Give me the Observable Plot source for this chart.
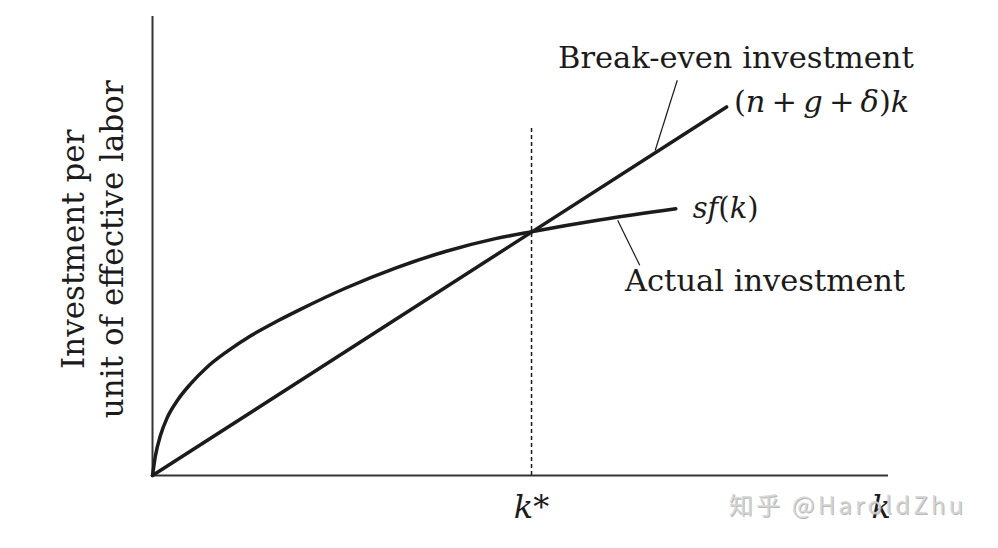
<!DOCTYPE html>
<html>
<head>
<meta charset="utf-8">
<script src="https://cdn.jsdelivr.net/npm/d3@7"></script>
<script src="https://cdn.jsdelivr.net/npm/@observablehq/plot@0.6"></script>
<style>
  html, body { margin: 0; padding: 0; background: #fff; }
  #chart { width: 998px; height: 548px; }
</style>
</head>
<body>
<div id="chart"></div>
<script>
// Actual investment curve sf(k)
const sfK = [0, 0.4, 1.1, 2.0, 3.4, 5.2, 7.4, 10.2, 13.3, 16.9, 20.1, 26.2, 33.0, 39.8, 46.6, 51.5, 60.9, 71.1];
const sfY = [0, 4.3, 8.8, 12.6, 16.4, 20.0, 23.6, 27.1, 30.4, 33.6, 36.2, 40.8, 45.2, 48.8, 51.6, 53.1, 55.7, 58.1];
// Break-even investment line (n+g+δ)k
const beK = [0, 78.0];
const beY = [0, 80.3];
// Steady state
const kStar = 51.5;
const kStarTop = 75.6;
// Axis extents
const xMax = 100, yMax = 100;

const labels = [
  {x: 55.1, y: 88.7, text: "Break-even investment", anchor: "start", size: 30.5},
  {x: 79.0, y: 79.1, text: "(n+g+δ)k", anchor: "start", size: 30.5},
  {x: 73.4, y: 56.2, text: "sf(k)", anchor: "start", size: 29},
  {x: 64.2, y: 40.3, text: "Actual investment", anchor: "start", size: 30.5},
  {x: kStar, y: -9.2, text: "k*", anchor: "middle", size: 32},
  {x: 99.0, y: -9.2, text: "k", anchor: "middle", size: 32}
];
const leaders = [
  {x1: 71.3, y1: 86.1, x2: 68.3, y2: 70.8},
  {x1: 63.2, y1: 55.6, x2: 66.2, y2: 45.8}
];
const yLabelLines = [
  {x: -9.3, y: 49.3, text: "Investment per"},
  {x: -4.0, y: 49.3, text: "unit of effective labor"}
];
const watermark = [{x: 78.3, y: -8.3, text: "知乎 @HaroldZhu"}];

const sfData = sfK.map((k, i) => ({k, v: sfY[i]}));
const beData = beK.map((k, i) => ({k, v: beY[i]}));
const serif = "DejaVu Serif";
const ink = "#1c1a1b";

const textMarks = labels.map(d => Plot.text([d], {
  x: "x", y: "y", text: "text", textAnchor: d.anchor, lineAnchor: "bottom",
  fontFamily: serif, fontSize: d.size, fill: ink
}));

const svg = Plot.plot({
  width: 998, height: 548,
  marginLeft: 152, marginRight: 110, marginTop: 16, marginBottom: 73,
  x: {domain: [0, xMax], axis: null},
  y: {domain: [0, yMax], axis: null},
  style: {background: "#fff"},
  marks: [
    Plot.ruleX([kStar], {y1: 0, y2: kStarTop, stroke: ink, strokeWidth: 1.5, strokeDasharray: "4,3"}),
    Plot.ruleX([0], {y1: 0, y2: yMax, stroke: "#333", strokeWidth: 2}),
    Plot.ruleY([0], {x1: 0, x2: xMax, stroke: "#333", strokeWidth: 2}),
    Plot.line(beData, {x: "k", y: "v", stroke: ink, strokeWidth: 3.5}),
    Plot.line(sfData, {x: "k", y: "v", stroke: ink, strokeWidth: 3.5, curve: "monotone-x"}),
    Plot.link(leaders, {x1: "x1", y1: "y1", x2: "x2", y2: "y2", stroke: ink, strokeWidth: 1.2}),
    ...textMarks,
    Plot.text(yLabelLines, {x: "x", y: "y", text: "text", rotate: -90, textAnchor: "middle", lineAnchor: "bottom", fontFamily: serif, fontSize: 31, fill: ink}),
    Plot.text(watermark, {x: "x", y: "y", text: "text", textAnchor: "start", lineAnchor: "bottom", fontFamily: "Noto Sans CJK SC", fontSize: 24, fill: "#9a9a9a", dx: 1, dy: 1, fillOpacity: 0.7}),
    Plot.text(watermark, {x: "x", y: "y", text: "text", textAnchor: "start", lineAnchor: "bottom", fontFamily: "Noto Sans CJK SC", fontSize: 24, fill: "#d6d6d6", fillOpacity: 0.9})
  ]
});

// Italicise variable letters in the math labels; widen spacing around "+"
const mathLabels = new Set(["(n+g+δ)k", "sf(k)", "k*", "k"]);
d3.select(svg).selectAll("text").each(function () {
  const t = this.textContent;
  if (t === watermark[0].text) this.setAttribute("letter-spacing", "3.2");
  if (!mathLabels.has(t)) return;
  while (this.firstChild) this.removeChild(this.firstChild);
  const chars = Array.from(t);
  chars.forEach((ch, i) => {
    const ts = document.createElementNS("http://www.w3.org/2000/svg", "tspan");
    if (/[a-zδ]/.test(ch)) ts.setAttribute("font-style", "italic");
    if (ch === "+" || (i > 0 && chars[i - 1] === "+")) ts.setAttribute("dx", "0.2em");
    ts.textContent = ch;
    this.appendChild(ts);
  });
});

document.getElementById("chart").appendChild(svg);
</script>
</body>
</html>
